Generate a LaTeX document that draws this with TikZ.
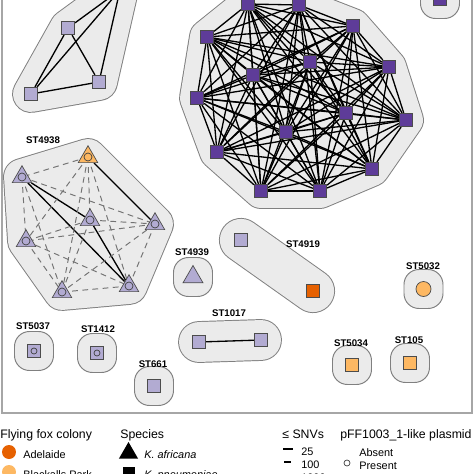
\documentclass[tikz,border=0pt]{standalone}
\usepackage{fontspec}
\setmainfont{Liberation Sans}
\usepackage{tikz}
\usetikzlibrary{shapes.geometric,calc}

\definecolor{purp}{HTML}{5E3C99}
\definecolor{lav}{HTML}{B2ABD2}
\definecolor{lorange}{HTML}{FDB863}
\definecolor{dorange}{HTML}{E66101}
\definecolor{hullfill}{HTML}{EBEBEB}
\definecolor{hullline}{HTML}{808080}
\definecolor{framegray}{HTML}{A6A6A6}

\pgfdeclarelayer{hulls}
\pgfdeclarelayer{edges}
\pgfsetlayers{hulls,edges,main}

\tikzset{
  sqn/.style={rectangle,draw=black!70,line width=0.4pt,minimum size=0.27cm,inner sep=0pt},
  trin/.style={regular polygon,regular polygon sides=3,draw=black!70,line width=0.4pt,minimum size=0.45cm,inner sep=0pt},
  cirn/.style={circle,draw=black!70,line width=0.4pt,minimum size=0.3cm,inner sep=0pt},
  plasmid/.style={draw=black!75,line width=0.4pt},
  lowsnv/.style={black,line width=0.75pt},
  highsnv/.style={black!55,line width=0.55pt,dash pattern=on 3.3pt off 2.5pt},
  hull/.style={preaction={draw=hullline,fill=hullline,line width=#1+1.1pt,line join=round,line cap=round},
    draw=hullfill,fill=hullfill,line width=#1,line join=round,line cap=round},
  hullbox/.style={draw=hullline,fill=hullfill,line width=0.55pt,rounded corners=0.3cm},
  stlab/.style={font=\fontsize{5.5}{6}\selectfont\bfseries,inner sep=0pt,text height=0.72em,text depth=0pt},
  head/.style={font=\fontsize{7}{8}\selectfont,anchor=west,inner sep=0pt,text height=0.72em,text depth=0pt},
  item/.style={font=\fontsize{6.2}{7}\selectfont,anchor=west,inner sep=0pt,text height=0.72em,text depth=0pt},
}

\begin{document}
\begin{tikzpicture}[x=0.02cm,y=-0.02cm]
    \useasboundingbox (0,0) rectangle (474,474);
    \clip (0,0) rectangle (474,474);

    \node[sqn,fill=lav] (q1) at (68,28) {};
    \node[sqn,fill=lav] (q2) at (31,94) {};
    \node[sqn,fill=lav] (q3) at (99,82) {};
    \node[sqn,fill=lav] (q4) at (120,-10) {};

    \node[sqn,fill=purp] (p1) at (248,4) {};
    \node[sqn,fill=purp] (p2) at (299,5) {};
    \node[sqn,fill=purp] (p3) at (353,26) {};
    \node[sqn,fill=purp] (p4) at (207,37) {};
    \node[sqn,fill=purp] (p5) at (310,62) {};
    \node[sqn,fill=purp] (p6) at (389,67) {};
    \node[sqn,fill=purp] (p7) at (253,75) {};
    \node[sqn,fill=purp] (p8) at (197,98) {};
    \node[sqn,fill=purp] (p9) at (346,113) {};
    \node[sqn,fill=purp] (p10) at (406,120) {};
    \node[sqn,fill=purp] (p11) at (286,132) {};
    \node[sqn,fill=purp] (p12) at (217,152) {};
    \node[sqn,fill=purp] (p13) at (372,169) {};
    \node[sqn,fill=purp] (p14) at (261,191) {};
    \node[sqn,fill=purp] (p15) at (320,191) {};

    \node[sqn,fill=purp] (u440) at (440,-1) {};

    \node[stlab] (l4938) at (43,137) {ST4938};
    \node[trin,fill=lorange] (t1) at (88,157) {};
    \node[trin,fill=lav] (t2) at (22,177) {};
    \node[trin,fill=lav] (t3) at (90,220) {};
    \node[trin,fill=lav] (t4) at (155,224) {};
    \node[trin,fill=lav] (t5) at (26,241) {};
    \node[trin,fill=lav] (t6) at (62,292) {};
    \node[trin,fill=lav] (t7) at (129,286) {};
    \foreach \n in {1,...,7}
        \draw[plasmid] (t\n.center) circle (4);

    \node[stlab] (l4939) at (192,249) {ST4939};
    \node[trin,fill=lav,minimum size=0.46cm] (u4939) at (193,277) {};

    \node[stlab] (l4919) at (303,241) {ST4919};
    \node[sqn,fill=lav] (s1) at (241,240) {};
    \node[sqn,fill=dorange] (s2) at (313,291) {};

    \node[stlab] (l1017) at (229,310) {ST1017};
    \node[sqn,fill=lav] (r1) at (199,342) {};
    \node[sqn,fill=lav] (r2) at (261,340) {};

    \node[stlab] (l5032) at (423,263) {ST5032};
    \node[cirn,fill=lorange] (u5032) at (423.5,289) {};

    \node[stlab] (l5037) at (33,323) {ST5037};
    \node[sqn,fill=lav] (u5037) at (34,351) {};
    \draw[plasmid] (u5037.center) circle (3);

    \node[stlab] (l1412) at (98,326) {ST1412};
    \node[sqn,fill=lav] (u1412) at (97,353) {};
    \draw[plasmid] (u1412.center) circle (3);

    \node[stlab] (l661) at (153,361) {ST661};
    \node[sqn,fill=lav] (u661) at (154,386) {};

    \node[stlab] (l5034) at (351,340) {ST5034};
    \node[sqn,fill=lorange] (u5034) at (352,365) {};

    \node[stlab] (l105) at (409,337) {ST105};
    \node[sqn,fill=lorange] (u105) at (410,363) {};

    \begin{pgfonlayer}{hulls}
    \draw[hull=20.4pt] (q4.center) -- (q3.center) -- (q2.center) -- (q1.center) -- cycle;
    \draw[hull=19.3pt] (p1.center) -- (p2.center) -- (p3.center) -- (p6.center) -- (p10.center) -- (p13.center)
        -- (p15.center) -- (p14.center) -- (p12.center) -- (p8.center) -- (p4.center) -- cycle;
    \draw[hull=20.4pt] (t1.center) -- (t4.center) -- (t7.center) -- (t6.center) -- (t5.center) -- (t2.center) -- cycle;
    \draw[hull=24pt] (s1.center) -- (s2.center);
    \draw[hull=22.7pt] (r1.center) -- (r2.center);
    \foreach \u in {u440,u4939,u5032,u5037,u1412,u661,u5034,u105}
        \draw[hullbox] ($(\u)+(-19.5,-19.5)$) rectangle ($(\u)+(19.5,19.5)$);
    \end{pgfonlayer}

    \begin{pgfonlayer}{edges}
    \foreach \a/\b in {q1/q2,q1/q3,q2/q3,q1/q4,q2/q4,q3/q4}
        \draw[lowsnv] (\a) -- (\b);
    \foreach \i in {1,...,15}{
        \foreach \j in {1,...,15}{
            \ifnum\i<\j \draw[lowsnv] (p\i) -- (p\j); \fi
        }
    }
    \foreach \a/\b in {1/4,2/3,2/7,3/7}
        \draw[lowsnv] (t\a) -- (t\b);
    \foreach \a/\b in {1/2,1/3,1/5,1/6,1/7,2/4,2/5,2/6,3/4,3/5,3/6,4/5,4/6,4/7,5/6,5/7,6/7}
        \draw[highsnv] (t\a.center) -- (t\b.center);
    \draw[lowsnv] (r1) -- (r2);
    \end{pgfonlayer}

    \draw[framegray,line width=0.6pt] (2,-2) -- (2,413) -- (472,413) -- (472,-2);

    %\node[head] (hshape) at (120,420) {};
    \node[head] (hcol) at (0,432) {Flying fox colony};
    \node[circle,fill=dorange,minimum size=0.28cm,inner sep=0pt] (kade) at (9,452) {};
    \node[item] (tade) at (23,452) {Adelaide};
    \node[circle,fill=lorange,minimum size=0.28cm,inner sep=0pt] (kbla) at (9,472) {};
    \node[item] (tbla) at (23,472) {Blackalls Park};

    \node[head] (hspe) at (120,432) {Species};
    \node[regular polygon,regular polygon sides=3,fill=black,minimum size=0.44cm,inner sep=0pt] (kafr) at (128.5,453) {};
    \node[item] (tafr) at (144,452) {\itshape K. africana};
    \node[rectangle,fill=black,minimum size=0.24cm,inner sep=0pt] (kpne) at (129,473) {};
    \node[item] (tpne) at (144,472) {\itshape K. pneumoniae};

    \node[head] (hsnv) at (282,432) {≤ SNVs};
    \draw[black,line width=1.1pt] (283,449) -- (293,449);
    \node[item] (t25) at (301,449) {25};
    \draw[black,line width=0.6pt] (284,462) -- (291,462);
    \node[item] (t100) at (301,462) {100};
    \node[item] (t1000) at (301,475) {1000};

    \node[head] (hpla) at (340,432) {pFF1003\_1-like plasmid};
    \node[item] (tabs) at (359,450) {Absent};
    \node[item] (tpre) at (359,463) {Present};
    \draw[plasmid] (347,463) circle (3);
\end{tikzpicture}
\end{document}
